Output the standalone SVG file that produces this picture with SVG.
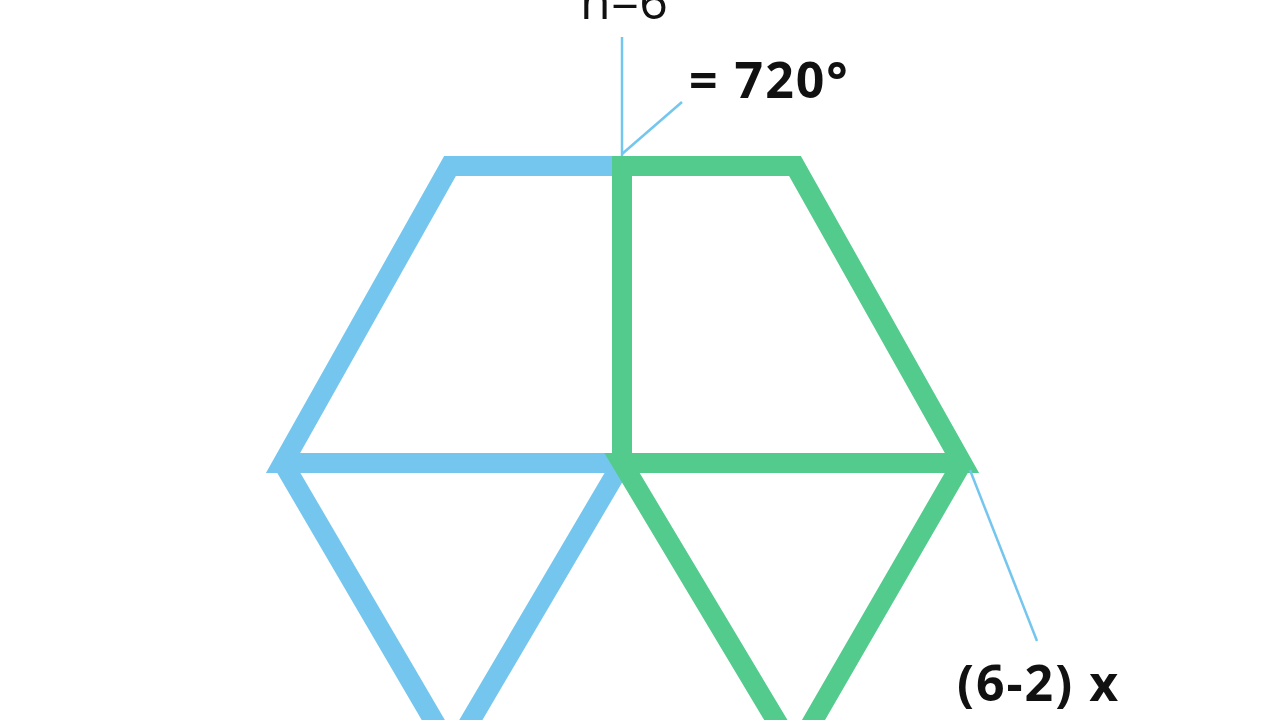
<svg xmlns="http://www.w3.org/2000/svg" width="1280" height="720" viewBox="0 0 1280 720">
<style>
.blue{fill:none;stroke:#74C6EF;stroke-width:20;stroke-linejoin:miter}
.green{fill:none;stroke:#52CB8C;stroke-width:20;stroke-linejoin:miter}
.lead{fill:none;stroke:#74C6EF;stroke-width:2.5}
.lbl{font-family:"Open Sans","Liberation Sans",sans-serif;font-size:50px;fill:#111}
.b{font-weight:bold;letter-spacing:2px}
</style>
<rect width="1280" height="720" fill="#ffffff"/>
<g id="blue-half">
<path class="blue" d="M622,166 L450,166 L283,463 L622,463 L452,752 L283,463"/>
</g>
<g id="green-half">
<path class="green" d="M622,463 L622,166 L795,166 L962,463 L622,463 L795,752 L962,463"/>
</g>
<g id="connectors">
<line class="lead" x1="622" y1="37" x2="622" y2="156"/>
<line class="lead" x1="622" y1="154" x2="682" y2="102"/>
<line class="lead" x1="970" y1="470" x2="1037" y2="641"/>
</g>
<g id="label-n">
<text class="lbl" x="624" y="19" text-anchor="middle">n=6</text>
</g>
<g id="label-720">
<text class="lbl b" x="689" y="98">= 720°</text>
</g>
<g id="label-formula">
<text class="lbl b" x="957" y="701">(6-2) x</text>
</g>
</svg>
